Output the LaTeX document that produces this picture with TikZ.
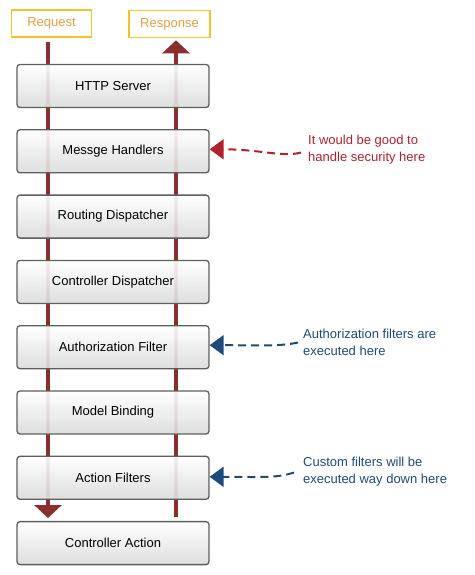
\documentclass[tikz,border=0pt]{standalone}
\usepackage{fontspec}
\setmainfont{Liberation Sans}
\usetikzlibrary{arrows.meta}

\definecolor{flowred}{HTML}{8B2E2E}
\definecolor{boxgray}{HTML}{5E5E5E}
\definecolor{hdryellow}{HTML}{F6C22C}
\definecolor{hdrorange}{HTML}{E8A040}
\definecolor{notered}{HTML}{B0222E}
\definecolor{noteblue}{HTML}{1D4C7C}

\tikzset{
  stage/.style={draw=boxgray,line width=1.3pt,rounded corners=3pt,
    minimum width=192pt,minimum height=43pt,
    top color=white,bottom color=black!14,fill opacity=0.92,text opacity=1,
    font=\fontsize{13}{16}\selectfont},
  header/.style={draw=hdryellow,line width=1.6pt,fill=white,text=hdrorange,
    minimum height=27pt,font=\fontsize{13}{16}\selectfont},
  flow/.style={line width=4pt,flowred,-{Triangle[width=27pt,length=13pt]}},
  note/.style={anchor=west,align=left,inner sep=0pt,
    font=\fontsize{13}{17}\selectfont},
  hint/.style={line width=2pt,dash pattern=on 8pt off 5pt,
    -{Triangle[width=20pt,length=14pt]}},
}

\begin{document}
\begin{tikzpicture}[x=1pt,y=-1pt]
  \useasboundingbox (0,0) rectangle (474,575);

  % the two columns on top
  \node[header,minimum width=80pt](req)at(51.5,23.5){Request};
  \node[header,minimum width=81pt](resp)at(169.5,24){Response};

  \coordinate (reqend) at (48,518);
  \coordinate (respstart) at (176,517);
  \draw[flow,shorten <=4pt] (req.south -| reqend) to (reqend);
  \draw[flow,shorten >=2pt] (respstart) to (resp.south -| respstart);

  % pipeline stages
  \foreach \name/\label [count=\i from 0] in {http/HTTP Server,
      mh/Messge Handlers,rd/Routing Dispatcher,cd/Controller Dispatcher,
      af/Authorization Filter,mb/Model Binding,act/Action Filters,
      ca/Controller Action}
    \node[stage](\name)at(113,86+65.3*\i){\label};

  % remarks
  \node[note,text=notered](sec)at(308,149.5){It would be good to\\handle security here};
  \node[note,text=noteblue](auth)at(303,342.5){Authorization filters are\\executed here};
  \node[note,text=noteblue](cust)at(303,471.5){Custom filters will be\\executed way down here};

  \draw[hint,notered] ([xshift=-7pt,yshift=-3pt]sec.west) .. controls +(-18,5) and +(50,0) .. ([yshift=2pt]mh.east);
  \draw[hint,noteblue] ([xshift=-5pt]auth.west) .. controls +(-18,4) and +(50,0) .. ([yshift=2pt]af.east);
  \draw[hint,noteblue] ([xshift=-9pt,yshift=-1pt]cust.west) .. controls +(-18,6) and +(50,0) .. ([yshift=1pt]act.east);
\end{tikzpicture}
\end{document}
